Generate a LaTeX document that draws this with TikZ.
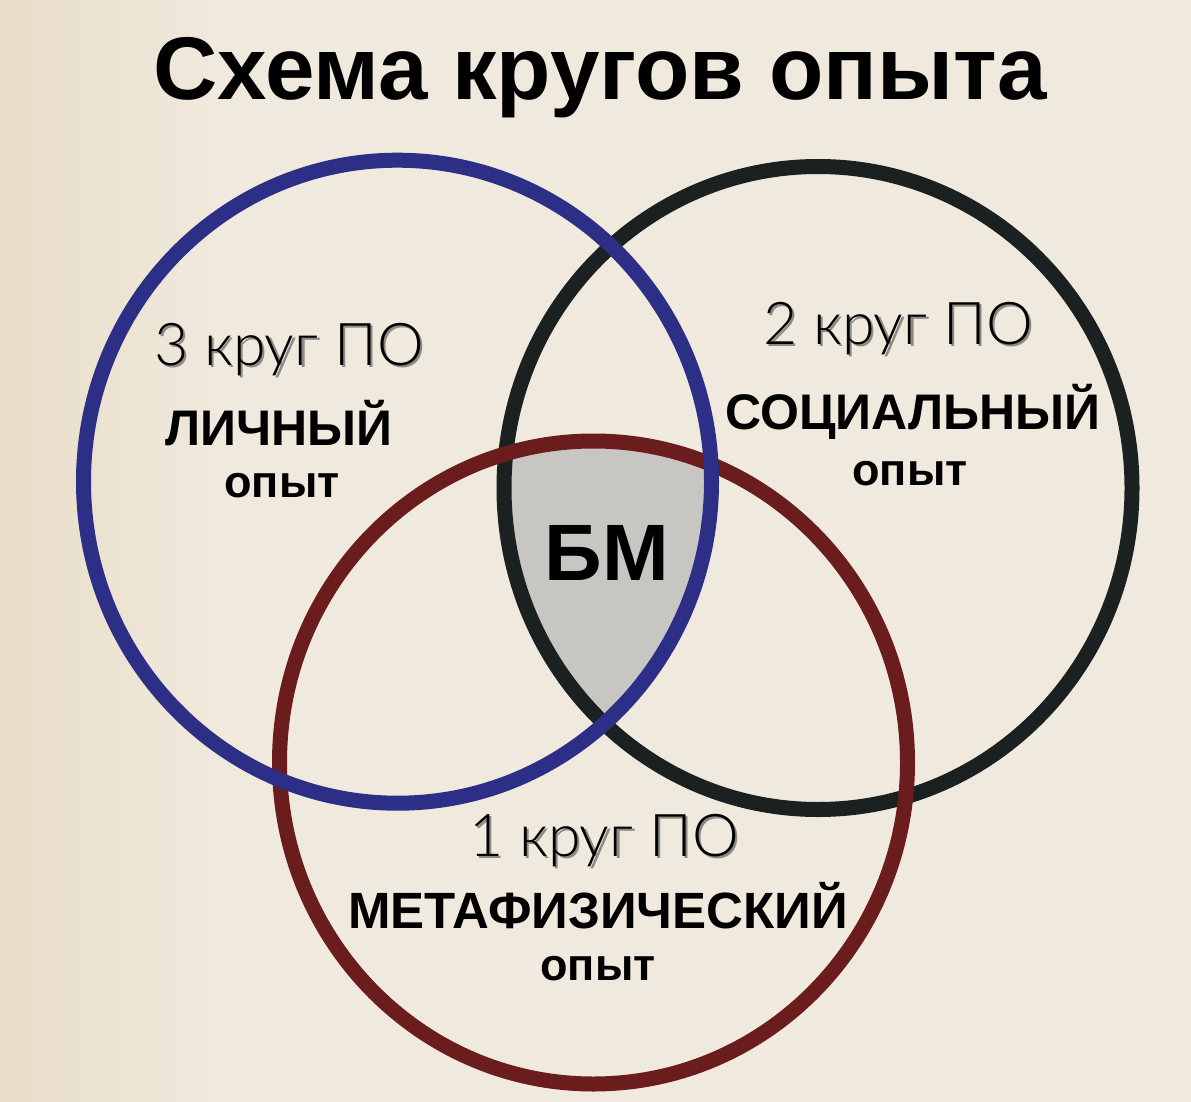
\documentclass[tikz,border=0pt]{standalone}
\usepackage{fontspec}
\setmainfont{Liberation Sans}
\newfontfamily\lightfont{Lato Light}
\definecolor{bgc}{HTML}{F0E9DD}
\definecolor{bgl}{HTML}{E8DDC8}
\definecolor{cblue}{HTML}{2C2F85}
\definecolor{cblack}{HTML}{1B2120}
\definecolor{cred}{HTML}{6B1C1C}
\definecolor{cgray}{HTML}{C8C6C3}
\definecolor{cshadow}{HTML}{8C8A86}
\tikzset{
  ring/.style={line width=15pt},
  titletext/.style={font=\bfseries\fontsize{89}{89}\selectfont, anchor=base},
  headbold/.style={font=\bfseries\fontsize{50}{50}\selectfont, anchor=base},
  subbold/.style={font=\bfseries\fontsize{45}{45}\selectfont, anchor=base},
  circtext/.style={font=\lightfont\fontsize{59}{59}\selectfont, anchor=base, text=black},
  circshadow/.style={font=\lightfont\fontsize{59}{59}\selectfont, anchor=base, text=cshadow},
}
\begin{document}
\begin{tikzpicture}[x=1pt,y=-1pt]
\useasboundingbox (0,0) rectangle (1191,1102);
% background
\fill[bgc] (0,0) rectangle (1191,1102);
\shade[left color=bgl, right color=bgc] (0,0) rectangle (220,1102);
% centres
\coordinate (cb) at (397.5,481.7);
\coordinate (ck) at (818,488);
\coordinate (cr) at (593.5,762.5);
% intersection fill
\begin{scope}
  \clip (cb) ellipse [x radius=314, y radius=321.5];
  \clip (ck) ellipse [x radius=314, y radius=321.5];
  \fill[cgray] (cr) ellipse [x radius=314, y radius=321.5];
\end{scope}
% rings
\draw[ring, cblack] (ck) ellipse [x radius=314, y radius=321.5];
\draw[ring, cred] (cr) ellipse [x radius=314, y radius=321.5];
\draw[ring, cblue] (cb) ellipse [x radius=314, y radius=321.5];
% title
\node[titletext] (title) at (600,100) {Схема кругов опыта};
% left circle texts
\node[circshadow] (s3) at (291.5,367) {3 круг ПО};
\node[circtext] (t3) at (289,365) {3 круг ПО};
\node[headbold] (lich) at (279,445) {ЛИЧНЫЙ};
\node[subbold] (op3) at (282,497) {опыт};
% right circle texts
\node[circshadow] (s2) at (900.5,346) {2 круг ПО};
\node[circtext] (t2) at (898,344) {2 круг ПО};
\node[headbold] (soc) at (913,429) {СОЦИАЛЬНЫЙ};
\node[subbold] (op2) at (910,485) {опыт};
% bottom circle texts
\node[circshadow] (s1) at (606.5,858) {1 круг ПО};
\node[circtext] (t1) at (604,856) {1 круг ПО};
\node[font=\bfseries\fontsize{51}{51}\selectfont, anchor=base] (meta) at (598,928) {МЕТАФИЗИЧЕСКИЙ};
\node[subbold] (op1) at (598,980) {опыт};
% centre
\node[font=\bfseries\fontsize{80}{80}\selectfont, anchor=base] (bm) at (607,580) {БМ};
\end{tikzpicture}
\end{document}
